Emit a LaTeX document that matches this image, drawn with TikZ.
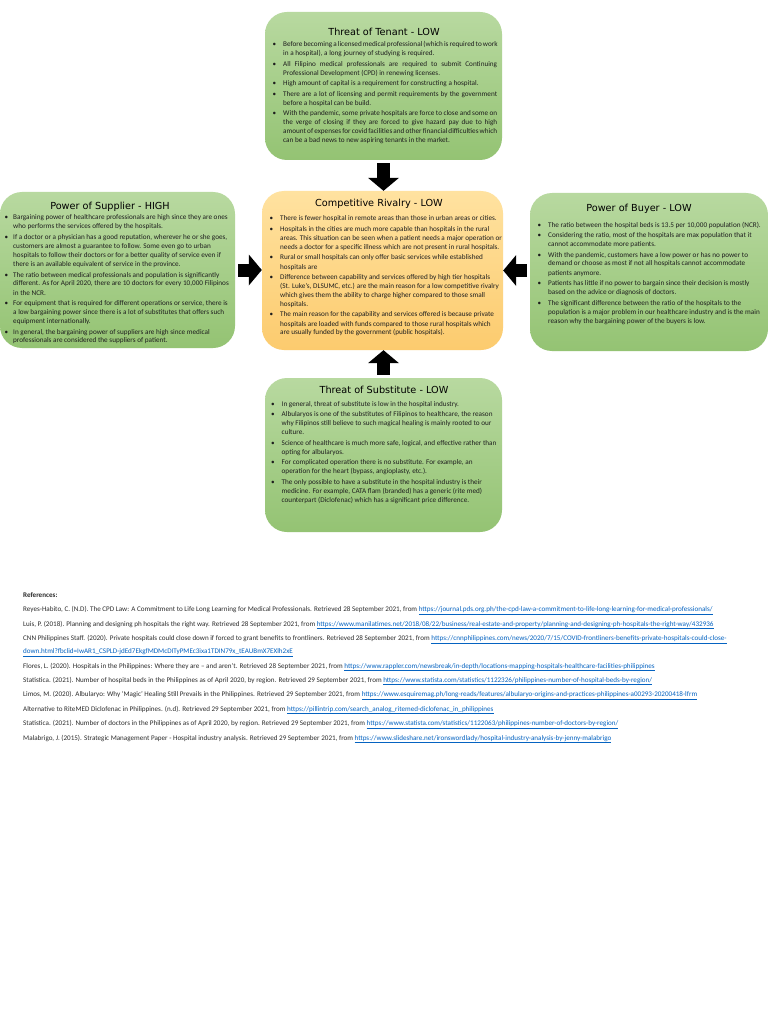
\documentclass[tikz,border=0pt]{standalone}
\usepackage{fontspec}
\setmainfont{Carlito}
\newfontfamily\ttlfont{DejaVu Sans}
\usetikzlibrary{arrows.meta}
\definecolor{gtop}{RGB}{184,217,160}
\definecolor{gbot}{RGB}{148,195,115}
\definecolor{otop}{RGB}{255,226,160}
\definecolor{obot}{RGB}{252,203,110}
\definecolor{linkblue}{RGB}{5,99,193}
\definecolor{bodytxt}{RGB}{30,30,30}
\definecolor{reftxt}{RGB}{45,45,45}
\newlength\bgap
\newlength\jw
\newcommand\bpt[1]{\hbox{\llap{\textbullet\hspace{\bgap}}#1}}
\newcommand\cpt[1]{\hbox{#1}}
\newcommand\jbpt[1]{\hbox to\jw{\llap{\textbullet\hspace{\bgap}}#1}}
\newcommand\jcpt[1]{\hbox to\jw{#1}}
\newcommand\gapb{\vskip1.5pt}
\newcommand\lnk[1]{{\color{linkblue}\underline{#1}}}
\tikzset{
  gbox/.style={rounded corners=22pt, top color=gtop, bottom color=gbot, draw=none, inner sep=0pt},
  obox/.style={rounded corners=22pt, top color=otop, bottom color=obot, draw=none, inner sep=0pt},
  ttl/.style={font=\ttlfont\fontsize{9.7}{11}\selectfont, anchor=base, inner sep=0pt},
  body/.style={font=\fontsize{7.2}{9}\selectfont, text=bodytxt, anchor=base west, inner sep=0pt},
  blockarrow/.style={line width=13pt, -{Triangle[width=31pt,length=13pt,line width=0pt]}, shorten <=3pt},
  refline/.style={font=\fontsize{7.1}{8}\selectfont, text=reftxt, anchor=base west, inner sep=0pt},
}
\begin{document}
\begin{tikzpicture}[x=1pt,y=-1pt]
\useasboundingbox (0,0) rectangle (768,1024);
\fill[white] (0,0) rectangle (768,1024);

% boxes
\node[gbox, minimum width=237pt, minimum height=148pt] (tenant) at (383.5,86) {};
\node[gbox, minimum width=235pt, minimum height=156pt] (supplier) at (117.5,270) {};
\node[obox, minimum width=241pt, minimum height=159pt] (rivalry) at (382.5,270.5) {};
\node[gbox, minimum width=238pt, minimum height=158pt] (buyer) at (649,272) {};
\node[gbox, minimum width=237pt, minimum height=154pt] (substitute) at (383.5,455) {};

% arrows
\draw[blockarrow] (tenant.south) -- (tenant.south |- rivalry.north);
\draw[blockarrow] (supplier.east) -- (supplier.east -| rivalry.west);
\draw[blockarrow] (buyer.west |- rivalry.east) -- (rivalry.east);
\draw[blockarrow] (substitute.north) -- (substitute.north |- rivalry.south);

% titles
\node[ttl] (tenantT) at (384,35.5) {Threat of Tenant - LOW};
\node[ttl] (supplierT) at (110,210) {Power of Supplier - HIGH};
\node[ttl] (rivalryT) at (379,206.5) {Competitive Rivalry - LOW};
\node[ttl] (buyerT) at (639,211.5) {Power of Buyer - LOW};
\node[ttl] (substituteT) at (384,393.5) {Threat of Substitute - LOW};

% bodies
\node[body] (tenantB) at (283,47) {\vtop{\setlength\bgap{7pt}\setlength\jw{214pt}%
\jbpt{Before becoming a licensed medical professional (which is required to work}
\cpt{in a hospital), a long journey of studying is required.}
\gapb
\jbpt{All Filipino medical professionals are required to submit Continuing}
\cpt{Professional Development (CPD) in renewing licenses.}
\gapb
\bpt{High amount of capital is a requirement for constructing a hospital.}
\gapb
\jbpt{There are a lot of licensing and permit requirements by the government}
\cpt{before a hospital can be build.}
\gapb
\jbpt{With the pandemic, some private hospitals are force to close and some on}
\jcpt{the verge of closing if they are forced to give hazard pay due to high}
\jcpt{amount of expenses for covid facilities and other financial difficulties which}
\cpt{can be a bad news to new aspiring tenants in the market.}}};

\node[body] (supplierB) at (13,220) {\vtop{\setlength\bgap{5pt}%
\bpt{Bargaining power of healthcare professionals are high since they are ones}
\cpt{who performs the services offered by the hospitals.}
\gapb
\bpt{If a doctor or a physician has a good reputation, wherever he or she goes,}
\cpt{customers are almost a guarantee to follow. Some even go to urban}
\cpt{hospitals to follow their doctors or for a better quality of service even if}
\cpt{there is an available equivalent of service in the province.}
\gapb
\bpt{The ratio between medical professionals and population is significantly}
\cpt{different. As for April 2020, there are 10 doctors for every 10,000 Filipinos}
\cpt{in the NCR.}
\gapb
\bpt{For equipment that is required for different operations or service, there is}
\cpt{a low bargaining power since there is a lot of substitutes that offers such}
\cpt{equipment internationally.}
\gapb
\bpt{In general, the bargaining power of suppliers are high since medical}
\cpt{professionals are considered the suppliers of patient.}}};

\node[body] (rivalryB) at (280,221) {\vtop{\setlength\bgap{7pt}%
\bpt{There is fewer hospital in remote areas than those in urban areas or cities.}
\gapb
\bpt{Hospitals in the cities are much more capable than hospitals in the rural}
\cpt{areas. This situation can be seen when a patient needs a major operation or}
\cpt{needs a doctor for a specific illness which are not present in rural hospitals.}
\gapb
\bpt{Rural or small hospitals can only offer basic services while established}
\cpt{hospitals are}
\gapb
\bpt{Difference between capability and services offered by high tier hospitals}
\cpt{(St. Luke's, DLSUMC, etc.) are the main reason for a low competitive rivalry}
\cpt{which gives them the ability to charge higher compared to those small}
\cpt{hospitals.}
\gapb
\bpt{The main reason for the capability and services offered is because private}
\cpt{hospitals are loaded with funds compared to those rural hospitals which}
\cpt{are usually funded by the government (public hospitals).}}};

\node[body] (buyerB) at (548,227) {\vtop{\setlength\bgap{7pt}%
\bpt{The ratio between the hospital beds is 13.5 per 10,000 population (NCR).}
\gapb
\bpt{Considering the ratio, most of the hospitals are max population that it}
\cpt{cannot accommodate more patients.}
\gapb
\bpt{With the pandemic, customers have a low power or has no power to}
\cpt{demand or choose as most if not all hospitals cannot accommodate}
\cpt{patients anymore.}
\gapb
\bpt{Patients has little if no power to bargain since their decision is mostly}
\cpt{based on the advice or diagnosis of doctors.}
\gapb
\bpt{The significant difference between the ratio of the hospitals to the}
\cpt{population is a major problem in our healthcare industry and is the main}
\cpt{reason why the bargaining power of the buyers is low.}}};

\node[body] (substituteB) at (281.5,406) {\vtop{\setlength\bgap{7pt}%
\bpt{In general, threat of substitute is low in the hospital industry.}
\gapb
\bpt{Albularyos is one of the substitutes of Filipinos to healthcare, the reason}
\cpt{why Filipinos still believe to such magical healing is mainly rooted to our}
\cpt{culture.}
\gapb
\bpt{Science of healthcare is much more safe, logical, and effective rather than}
\cpt{opting for albularyos.}
\gapb
\bpt{For complicated operation there is no substitute. For example, an}
\cpt{operation for the heart (bypass, angioplasty, etc.).}
\gapb
\bpt{The only possible to have a substitute in the hospital industry is their}
\cpt{medicine. For example, CATA flam (branded) has a generic (rite med)}
\cpt{counterpart (Diclofenac) which has a significant price difference.}}};

% references
\node[refline] (ref0) at (23,597) {\bfseries References:};
\node[refline] (ref1) at (23,611.5) {Reyes-Habito, C. (N.D). The CPD Law: A Commitment to Life Long Learning for Medical Professionals. Retrieved 28 September 2021, from \lnk{https://journal.pds.org.ph/the-cpd-law-a-commitment-to-life-long-learning-for-medical-professionals/}};
\node[refline] (ref2) at (23,626) {Luis, P. (2018). Planning and designing ph hospitals the right way. Retrieved 28 September 2021, from \lnk{https://www.manilatimes.net/2018/08/22/business/real-estate-and-property/planning-and-designing-ph-hospitals-the-right-way/432936}};
\node[refline] (ref3) at (23,640.5) {CNN Philippines Staff. (2020). Private hospitals could close down if forced to grant benefits to frontliners. Retrieved 28 September 2021, from \lnk{https://cnnphilippines.com/news/2020/7/15/COVID-frontliners-benefits-private-hospitals-could-close-}};
\node[refline] (ref3b) at (23,653.5) {\lnk{down.html?fbclid=IwAR1\_CSPLD-jdEd7EkgfMDMcDITyPMEc3ixa1TDIN79x\_tEAUBmX7EXlh2xE}};
\node[refline] (ref4) at (23,668) {Flores, L. (2020). Hospitals in the Philippines: Where they are – and aren’t. Retrieved 28 September 2021, from \lnk{https://www.rappler.com/newsbreak/in-depth/locations-mapping-hospitals-healthcare-facilities-philippines}};
\node[refline] (ref5) at (23,682) {Statistica. (2021). Number of hospital beds in the Philippines as of April 2020, by region. Retrieved 29 September 2021, from \lnk{https://www.statista.com/statistics/1122326/philippines-number-of-hospital-beds-by-region/}};
\node[refline] (ref6) at (23,696.5) {Limos, M. (2020). Albularyo: Why ‘Magic’ Healing Still Prevails in the Philippines. Retrieved 29 September 2021, from \lnk{https://www.esquiremag.ph/long-reads/features/albularyo-origins-and-practices-philippines-a00293-20200418-lfrm}};
\node[refline] (ref7) at (23,711) {Alternative to RiteMED Diclofenac in Philippines. (n.d). Retrieved 29 September 2021, from \lnk{https://pillintrip.com/search\_analog\_ritemed-diclofenac\_in\_philippines}};
\node[refline] (ref8) at (23,725.5) {Statistica. (2021). Number of doctors in the Philippines as of April 2020, by region. Retrieved 29 September 2021, from \lnk{https://www.statista.com/statistics/1122063/philippines-number-of-doctors-by-region/}};
\node[refline] (ref9) at (23,740) {Malabrigo, J. (2015). Strategic Management Paper - Hospital industry analysis. Retrieved 29 September 2021, from \lnk{https://www.slideshare.net/ironswordlady/hospital-industry-analysis-by-jenny-malabrigo}};
\end{tikzpicture}
\end{document}
